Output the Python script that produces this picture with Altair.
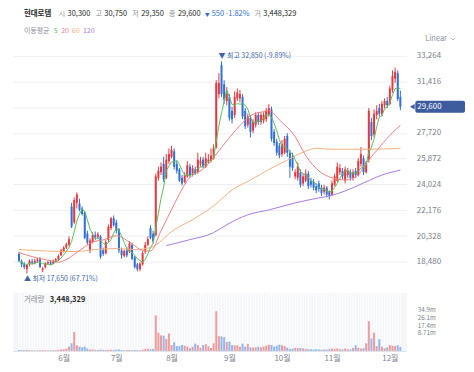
import altair as alt
import pandas as pd

FONT = "Noto Sans CJK KR"

# ---------------- data ----------------
stock_name = "현대로템"

opens = [19050, 18500, 18300, 17950, 18300, 18500, 18400, 18550, 18650, 17900,
         18100, 18350, 18450, 18350, 18550, 18650, 18950, 19250, 19500, 19700,
         22450, 21300, 22700, 22650, 22300, 22000, 20500, 19300, 19900, 20400,
         20250, 20300, 19300, 19100, 20050, 20900, 21600, 21300, 20800, 19300,
         18900, 19300, 19200, 19700, 18800, 18300, 17950, 18300, 19200, 19700,
         20900, 20500, 20400, 24500, 24900, 25500, 24500, 25700, 26000, 26400,
         25500, 25100, 24500, 24200, 24600, 25300, 24800, 25100, 24900, 25500,
         25800, 25300, 25700, 25700, 25900, 26700, 30500, 32600, 31200, 30000,
         30300, 29300, 29000, 30200, 30200, 30300, 29300, 28300, 28800, 27900,
         28300, 29000, 28500, 28600, 28700, 29000, 29400, 27800, 27100, 26800,
         26200, 26300, 27500, 26300, 26000, 24600, 24500, 24900, 24100, 24300,
         24800, 24300, 24200, 23900, 24100, 23800, 23500, 23800, 23500, 23300,
         24000, 24300, 24900, 25000, 24300, 24700, 24900, 24500, 25000, 24700,
         25500, 25900, 24900, 25800, 28500, 27600, 29000, 29500, 29100, 29700,
         30000, 29800, 30800, 31600, 32000, 30300]

highs = [19200, 18650, 18450, 18300, 18650, 18700, 18700, 18750, 18800, 18100,
         18450, 18550, 18600, 18650, 18750, 19000, 19400, 19600, 19850, 20300,
         22700, 23100, 23450, 23000, 22450, 22100, 20700, 20150, 20600, 20650,
         20600, 20400, 19500, 20050, 21150, 21700, 21800, 21500, 20900, 19500,
         19350, 19550, 19950, 19850, 18900, 18400, 18450, 19250, 19900, 20300,
         21100, 20700, 24800, 25300, 25600, 26000, 26200, 26600, 26800, 26600,
         25700, 25200, 24700, 24900, 25700, 25500, 25400, 25300, 26300, 26000,
         26000, 26300, 26200, 26600, 26900, 31500, 32000, 32850, 31500, 31000,
         30500, 29600, 30700, 30900, 30800, 30500, 29500, 29100, 29000, 28700,
         29200, 29200, 29200, 29200, 29500, 29800, 29600, 28000, 27300, 27000,
         27200, 27500, 27700, 26500, 26300, 25100, 25600, 25100, 24800, 25100,
         25000, 24500, 24400, 24100, 24300, 24000, 24000, 23900, 23600, 24300,
         24800, 25600, 25500, 25200, 25300, 25200, 25100, 25100, 25200, 25900,
         26700, 26100, 25700, 29500, 28800, 29400, 29700, 29800, 30000, 30200,
         30300, 31100, 32200, 32400, 32200, 30750]

lows = [18450, 18100, 17950, 17650, 18150, 18300, 18300, 18400, 18050, 17750,
        18000, 18250, 18250, 18300, 18450, 18550, 18900, 19150, 19400, 19600,
        20900, 21200, 22300, 22100, 21800, 20100, 19700, 19100, 19800, 20050,
        20100, 18700, 18900, 19000, 19900, 20750, 21000, 20500, 19100, 18700,
        18800, 18800, 19100, 18600, 18000, 17800, 17800, 18200, 19050, 19600,
        20100, 19800, 20300, 24300, 24700, 24200, 24400, 25500, 25900, 25100,
        24800, 24200, 23950, 24100, 24500, 24500, 24600, 24700, 24800, 25300,
        25200, 25200, 25500, 25600, 25800, 26600, 30200, 30300, 29800, 29700,
        28600, 28400, 28800, 30000, 29900, 28700, 28000, 28100, 27400, 27700,
        28100, 28300, 28300, 28400, 28500, 28900, 27100, 26800, 26100, 25900,
        26000, 26200, 26000, 24500, 25000, 24400, 24300, 23800, 23900, 24200,
        23700, 23800, 23600, 23400, 23500, 23200, 23300, 23100, 22950, 23200,
        23900, 24200, 24700, 24400, 24100, 24500, 24300, 24300, 24500, 24600,
        25300, 24700, 24800, 25600, 27200, 27400, 28700, 28900, 28900, 29500,
        29500, 29700, 30600, 31300, 30000, 29350]

closes = [18550, 18300, 18100, 18250, 18550, 18400, 18550, 18650, 18100, 18000,
          18350, 18450, 18350, 18550, 18650, 18900, 19300, 19500, 19750, 20100,
          21000, 22900, 23300, 22200, 21900, 20200, 19850, 20000, 20400, 20250,
          20450, 18850, 19050, 19900, 21000, 21600, 21100, 20700, 19300, 18950,
          19250, 18950, 19800, 18700, 18100, 17950, 18350, 19100, 19700, 20100,
          20200, 19950, 24600, 25000, 25300, 24400, 25800, 26200, 26500, 25300,
          25000, 24300, 24100, 24700, 25400, 24700, 25200, 24800, 25800, 25700,
          25300, 25900, 25800, 26100, 26600, 31300, 31300, 30500, 30100, 30700,
          28800, 28700, 30300, 30600, 30500, 28900, 28200, 28900, 27800, 28500,
          29000, 28500, 29000, 29000, 29300, 29500, 27300, 27000, 26300, 26100,
          26900, 27300, 26300, 25300, 25200, 24900, 25300, 24000, 24600, 24800,
          23900, 24000, 23800, 23600, 23700, 23400, 23800, 23300, 23200, 24100,
          24600, 25300, 25200, 24600, 25100, 25000, 24500, 24900, 24700, 25700,
          26200, 24900, 25600, 29300, 27500, 29100, 29300, 29100, 29800, 30000,
          29700, 30900, 31800, 32100, 30150, 29600]

volumes_m = [0.8, 0.6, 0.7, 0.9, 0.6, 0.5, 0.4, 0.5, 0.6, 0.7,
             0.5, 0.4, 0.5, 0.6, 0.7, 0.9, 1.2, 1.5, 2.0, 3.8,
             6.7, 16.5, 4.9, 3.8, 3.1, 3.8, 2.1, 1.2, 1.4, 0.9,
             0.8, 1.3, 0.9, 0.8, 1.1, 1.0, 0.9, 1.2, 1.3, 0.8,
             0.6, 0.7, 0.9, 0.6, 0.8, 0.7, 0.6, 1.2, 1.6, 2.0,
             1.5, 1.8, 31.1, 16.0, 13.7, 13.4, 10.5, 15.4, 5.2, 7.6,
             4.3, 4.3, 5.2, 4.6, 3.8, 2.4, 3.8, 6.4, 5.2, 2.9,
             5.2, 5.9, 4.1, 2.6, 6.7, 34.85, 13.0, 12.8, 12.1, 7.8,
             8.2, 5.1, 4.9, 4.9, 3.8, 6.4, 3.8, 6.2, 3.1, 2.9,
             3.1, 3.8, 3.1, 3.8, 4.6, 5.5, 5.2, 3.8, 4.6, 5.5,
             4.9, 4.3, 2.9, 1.8, 2.1, 2.6, 2.4, 2.6, 2.1, 1.8,
             1.6, 1.4, 1.2, 1.5, 1.3, 1.1, 1.4, 1.2, 1.6, 2.1,
             1.8, 2.3, 1.5, 1.3, 2.1, 1.5, 1.3, 2.6, 4.9, 2.9,
             2.1, 2.4, 6.7, 26.1, 11.1, 16.0, 4.3, 10.3, 3.8, 2.4,
             3.1, 5.2, 4.6, 4.3, 4.9, 3.448329]

# moving averages (trading-day index, value)
ma20_idx = [0, 5, 11, 15, 18, 22, 25, 28, 32, 37, 42, 47, 50, 54, 59, 64, 71, 75, 79, 84,
            88, 93, 95, 99, 105, 109, 114, 119, 124, 129, 131, 136, 141, 145]
ma20_val = [19150, 18850, 18600, 18450, 18640, 19150, 19550, 19900, 20050, 20350,
            19900, 19300, 19250, 20700, 22600, 24300, 25300, 26200, 27150, 28250,
            28950, 29250, 29330, 28650, 27450, 26100, 25000, 24500, 24350, 24700,
            25300, 26450, 27550, 28250]
ma60_idx = [0, 7, 15, 22, 29, 37, 44, 50, 59, 66, 74, 81, 88, 95, 102, 109, 113, 119, 126, 134, 145]
ma60_val = [19360, 19290, 19220, 19220, 19360, 19430, 19360, 19500, 20780, 21500,
            22490, 23630, 24340, 25100, 25770, 26410, 26620, 26550, 26550, 26550, 26620]
ma120_idx = [56, 65, 74, 79, 87, 95, 105, 114, 118, 124, 131, 138, 145]
ma120_val = [19640, 20070, 20570, 21140, 21850, 22200, 22700, 23060, 23200, 23560,
             24130, 24700, 25050]

month_ticks = [17, 37, 58, 80, 100, 119, 141]
month_labels = ["6월", "7월", "8월", "9월", "10월", "11월", "12월"]
price_ticks = [18480, 20328, 22176, 24024, 25872, 27720, 29568, 31416, 33264]
vol_ticks = [8712500, 17425000, 26137500, 34850000]
header_keys = ["시", "고", "저", "종", "거"]
ma_periods = ["5", "20", "60", "120"]

# ---------------- styles ----------------
RED = "#e8383d"
BLUE = "#2f6fd8"
VRED = "#f09c9c"
VBLUE = "#8fb9ee"
C5, C20, C60, C120 = "#5cbd5c", "#f08080", "#f5b07d", "#a77ae6"
TAG = "#3d5b9f"
ANN = "#4264ab"
GRAY = "#8c9098"
DARK = "#2a2a2a"

W = 396
H_HEAD = 36
H_PRICE = 244
H_VOL = 59

n = len(closes)
df = pd.DataFrame({
    "idx": list(range(n)),
    "open": opens, "high": highs, "low": lows, "close": closes,
    "volume": [round(v * 1e6) for v in volumes_m],
})

last_o, last_h, last_l, last_c = opens[-1], highs[-1], lows[-1], closes[-1]
prev_c = closes[-2]
chg = last_c - prev_c
chg_pct = chg / prev_c * 100
last_vol = round(volumes_m[-1] * 1e6)
hi_v = max(highs)
lo_v = min(lows)
hi_i = highs.index(hi_v)
lo_i = lows.index(lo_v)

x_scale = alt.Scale(domain=[-0.4, 145.4], nice=False, zero=False)
p_scale = alt.Scale(domain=[16436, 33812], nice=False, zero=False)
p_axis = alt.Axis(orient="right", values=price_ticks,
                  labelExpr=f"abs(datum.value - {last_c}) < 900 ? '' : format(datum.value, ',')",
                  domain=False, ticks=False, grid=True, gridColor="#eceff3",
                  labelColor="#7a7f87", labelFontSize=8, labelPadding=10,
                  labelFont=FONT, title=None)
X = alt.X("idx:Q", scale=x_scale, axis=None)
up_cond = alt.datum.close >= alt.datum.open

one = pd.DataFrame({"k": [0]})


def txt(s, x, y, color, size=7.5, weight="normal", align="left"):
    return alt.Chart(one).mark_text(
        text=s, align=align, baseline="middle", fontSize=size,
        fontWeight=weight, color=color, font=FONT
    ).encode(x=alt.value(x), y=alt.value(y))


# ---------------- header ----------------
L1, L2 = 4, 21
KS = 7
head_layers = [
    txt(stock_name, 11, L1, DARK, 7.5, "bold"),
    txt(header_keys[0], 46, L1, GRAY, KS), txt(f"{last_o:,}", 55, L1, DARK),
    txt(header_keys[1], 83, L1, GRAY, KS), txt(f"{last_h:,}", 92, L1, DARK),
    txt(header_keys[2], 120, L1, GRAY, KS), txt(f"{last_l:,}", 129, L1, DARK),
    txt(header_keys[3], 157, L1, GRAY, KS), txt(f"{last_c:,}", 166, L1, DARK),
    txt("▼", 193, L1, BLUE, 5),
    txt(f"{abs(chg):,} {chg_pct:.2f}%", 200, L1, BLUE),
    txt(header_keys[4], 243, L1, GRAY, KS), txt(f"{last_vol:,}", 252, L1, DARK),
    txt("이동평균", 11, L2, GRAY, 7),
    txt(ma_periods[0], 41, L2, C5, 7), txt(ma_periods[1], 48.5, L2, C20, 7),
    txt(ma_periods[2], 59.5, L2, C60, 7), txt(ma_periods[3], 70.5, L2, C120, 7),
    txt("Linear", 415, 29, GRAY),
    alt.Chart(one).mark_point(shape="M-1,-0.5L0,0.5L1,-0.5", filled=False, size=16,
                              strokeWidth=1, color=GRAY).encode(x=alt.value(443), y=alt.value(29)),
]
header = alt.layer(*head_layers).properties(width=W, height=H_HEAD)

# ---------------- price panel ----------------
base = alt.Chart(df)
wick = base.mark_rule(strokeWidth=1).encode(
    x=X, y=alt.Y("low:Q", scale=p_scale, axis=p_axis), y2="high:Q",
    color=alt.condition(up_cond, alt.value(RED), alt.value(BLUE)))
body = base.mark_bar(width=2).encode(
    x=X, y=alt.Y("open:Q", scale=p_scale, axis=p_axis), y2="close:Q",
    color=alt.condition(up_cond, alt.value(RED), alt.value(BLUE)))
ma5 = base.transform_window(
    ma5="mean(close)", frame=[-4, 0], sort=[alt.SortField("idx", order="ascending")]
).mark_line(color=C5, strokeWidth=1).encode(
    x=X, y=alt.Y("ma5:Q", scale=p_scale, axis=p_axis))


def ma_line(idx, vals, color):
    return alt.Chart(pd.DataFrame({"idx": idx, "v": vals})).mark_line(
        color=color, strokeWidth=1, interpolate="monotone"
    ).encode(x=X, y=alt.Y("v:Q", scale=p_scale, axis=p_axis))


ann_df = pd.DataFrame({
    "idx": [hi_i, lo_i],
    "y": [hi_v, lo_v],
    "t": [f"▼ 최고 {hi_v:,} ({(last_c / hi_v - 1) * 100:.2f}%)",
          f"▲ 최저 {lo_v:,} ({(last_c / lo_v - 1) * 100:.2f}%)"],
    "dy": ["hi", "lo"],
})
ann_hi = alt.Chart(ann_df[ann_df.dy == "hi"]).mark_text(
    align="left", baseline="middle", dx=-3, dy=-5, fontSize=7, color=ANN, font=FONT
).encode(x=X, y=alt.Y("y:Q", scale=p_scale, axis=p_axis), text="t:N")
ann_lo = alt.Chart(ann_df[ann_df.dy == "lo"]).mark_text(
    align="left", baseline="middle", dx=-3, dy=6, fontSize=7, color=ANN, font=FONT
).encode(x=X, y=alt.Y("y:Q", scale=p_scale, axis=p_axis), text="t:N")

last_df = df.tail(1)
tag_rect = alt.Chart(last_df).mark_rect(
    color=TAG, cornerRadius=2, yOffset=-6, y2Offset=6
).encode(x=alt.value(W + 9), x2=alt.value(W + 59),
         y=alt.Y("close:Q", scale=p_scale, axis=p_axis), y2="close:Q")
tag_arrow = alt.Chart(last_df).mark_point(
    shape="triangle-left", filled=True, size=30, color=TAG, opacity=1
).encode(x=alt.value(W + 6), y=alt.Y("close:Q", scale=p_scale, axis=p_axis))
tag_text = alt.Chart(last_df).mark_text(
    align="left", baseline="middle", color="white", fontSize=8, font=FONT
).encode(x=alt.value(W + 11), y=alt.Y("close:Q", scale=p_scale, axis=p_axis),
         text=alt.Text("close:Q", format=","))

price = alt.layer(
    wick, body, ma_line(ma120_idx, ma120_val, C120), ma_line(ma60_idx, ma60_val, C60),
    ma_line(ma20_idx, ma20_val, C20), ma5, ann_hi, ann_lo, tag_rect, tag_arrow, tag_text
).properties(width=W, height=H_PRICE)

# ---------------- volume panel ----------------
m_expr = "''"
for t, l in reversed(list(zip(month_ticks, month_labels))):
    m_expr = f"datum.value == {t} ? '{l}' : ({m_expr})"
x_axis_vol = alt.Axis(values=month_ticks, labelExpr=m_expr, ticks=False, grid=False,
                      domain=True, domainColor="#dde1e6", labelColor="#80858d",
                      labelFontSize=8, labelPadding=4, labelFont=FONT, title=None)
XV = alt.X("idx:Q", scale=x_scale, axis=x_axis_vol)
v_scale = alt.Scale(domain=[0, 51.5e6], nice=False, zero=True)

stripes = base.mark_rule(color="white", strokeWidth=1, opacity=0.9).encode(x=XV)
vbars = base.mark_bar(width=2).encode(
    x=XV, y=alt.Y("volume:Q", scale=v_scale, axis=None),
    color=alt.condition(up_cond, alt.value(VRED), alt.value(VBLUE)))
vaxis = alt.Chart(pd.DataFrame({"t": vol_ticks})).mark_point(opacity=0).encode(
    y=alt.Y("t:Q", scale=alt.Scale(domain=[-12.38e6, 55.26e6], nice=False, zero=False),
            axis=alt.Axis(orient="right", values=vol_ticks, labelOverlap=False,
                          labelExpr="replace(format(datum.value, '.3s'), 'M', 'm')",
                          ticks=False, domain=False, grid=False, labelColor="#7a7f87",
                          labelFontSize=6.3, labelPadding=11, labelFont=FONT, title=None)))
vol_label = txt("거래량", 11, 8, GRAY)
vol_value = txt(f"{last_vol:,}", 37, 8, DARK, 7.5, "bold")

volume = alt.layer(stripes, vbars, vaxis, vol_label, vol_value).resolve_scale(
    y="independent").properties(width=W, height=H_VOL,
                                view=alt.ViewBackground(fill="#f4f6f9", stroke="transparent"))

chart = alt.vconcat(header, price, volume, spacing=0).properties(
    padding={"left": 4, "top": 0, "right": 0, "bottom": 0}
).configure(font=FONT).configure_view(stroke="transparent")

chart.save("out.html", embed_options={"renderer": "svg", "actions": False})
